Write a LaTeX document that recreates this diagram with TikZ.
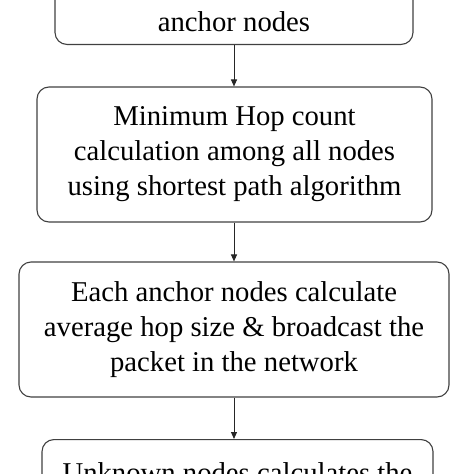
\documentclass[tikz,border=0pt]{standalone}
\usepackage{fontspec}
\setmainfont{Liberation Serif}
\usetikzlibrary{arrows.meta}

\begin{document}
\begin{tikzpicture}[x=1pt,y=1pt,
	stepbox/.style={draw=black!75, line width=1.1pt, rounded corners=12pt, align=center, inner sep=0pt, font=\fontsize{28.7}{35}\selectfont},
	flow/.style={draw=black!85, line width=1pt, -{Triangle[length=7pt,width=6pt]}}]
	%\draw[help lines] (0,0) grid (474,-474);
	\useasboundingbox (0,0) rectangle (474,-474);
	\node[stepbox, anchor=south, minimum width=358pt, text height=70pt, text depth=0pt, inner ysep=13pt] (anchors) at (234,-45) {anchor nodes};
	\node[stepbox, minimum width=395pt, minimum height=135pt] (hops) at (234.5,-154.5) {Minimum Hop count\\ calculation among all nodes\\ using shortest path algorithm};
	\node[stepbox, minimum width=430pt, minimum height=135pt] (hopsize) at (234,-329.5) {Each anchor nodes calculate\\ average hop size \& broadcast the\\ packet in the network};
	\node[stepbox, anchor=north, minimum width=391pt, text height=43pt, text depth=60pt] (unknown) at (237.5,-439) {Unknown nodes calculates the};
	\draw[flow] (anchors.south) -- (anchors.south |- hops.north);
	\draw[flow] (hops.south -| anchors.south) -- (anchors.south |- hopsize.north);
	\draw[flow] (hopsize.south) -- (hopsize.south |- unknown.north);
\end{tikzpicture}
\end{document}
